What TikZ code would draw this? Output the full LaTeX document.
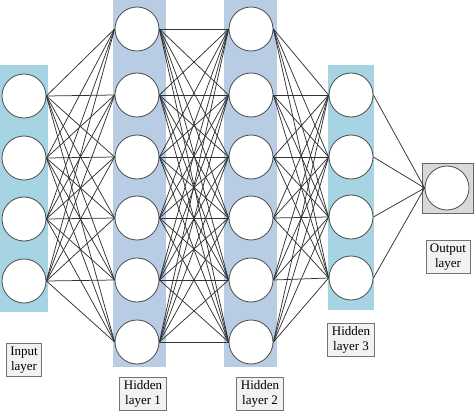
\documentclass[tikz,border=0pt]{standalone}
\usepackage{fontspec}
\setmainfont{Liberation Serif}
\definecolor{layerCyan}{RGB}{166, 212, 226}
\definecolor{layerBlue}{RGB}{184, 204, 228}
\definecolor{wireGray}{RGB}{50, 50, 50}
\definecolor{boxGray}{RGB}{217, 217, 217}
\definecolor{tagGray}{RGB}{242, 242, 242}

\begin{document}
\begin{tikzpicture}[x=1pt, y=-1pt,
    neuron/.style={circle, draw=black!70, fill=white, line width=0.8pt, minimum size=44pt, inner sep=0pt},
    tag/.style={draw=black!55, fill=tagGray, line width=0.8pt, font=\fontsize{13}{14.5}\selectfont, align=center, inner xsep=4pt, inner ysep=3.5pt},
    wire/.style={wireGray, line width=0.75pt}]
      \useasboundingbox (0,0) rectangle (474,417);
      % layer bands
      \fill[layerCyan] (0,65) rectangle (48,312);
      \fill[layerBlue] (113,0) rectangle (166,367);
      \fill[layerBlue] (224,0) rectangle (277,367);
      \fill[layerCyan] (328,65) rectangle (374,310);
      \draw[black!60, fill=boxGray, line width=0.8pt] (422,163) rectangle (473,213);
      % neurons
      \foreach \i/\y in {1/96, 2/158, 3/219, 4/281}
        \node[neuron] (in\i) at (24,\y) {};
      \foreach \i/\y in {1/29, 2/95, 3/157, 4/218, 5/280, 6/342} {
        \node[neuron] (ha\i) at (137,\y) {};
        \node[neuron] (hb\i) at (251,\y) {};
      }
      \foreach \i/\y in {1/95, 2/157, 3/217, 4/278}
        \node[neuron] (hc\i) at (351,\y) {};
      \node[neuron] (out) at (447,188) {};
      % connections
      \foreach \a in {1,...,4}
        \foreach \b in {1,...,6}
          \draw[wire] (in\a.east) -- (ha\b.west);
      \foreach \a in {1,...,6}
        \foreach \b in {1,...,6}
          \draw[wire] (ha\a.east) -- (hb\b.west);
      \foreach \a in {1,...,6}
        \foreach \b in {1,...,4}
          \draw[wire] (hb\a.east) -- (hc\b.west);
      \foreach \a in {1,...,4}
        \draw[wire] (hc\a.east) -- (out.west);
      % labels
      \node[tag] (inTag) at (24,360) {Input\\layer};
      \node[tag] (haTag) at (143,394) {Hidden\\layer 1};
      \node[tag] (hbTag) at (260,394) {Hidden\\layer 2};
      \node[tag] (hcTag) at (351,340) {Hidden\\layer 3};
      \node[tag] (outTag) at (448,257) {Output\\layer};
    \end{tikzpicture}
\end{document}
